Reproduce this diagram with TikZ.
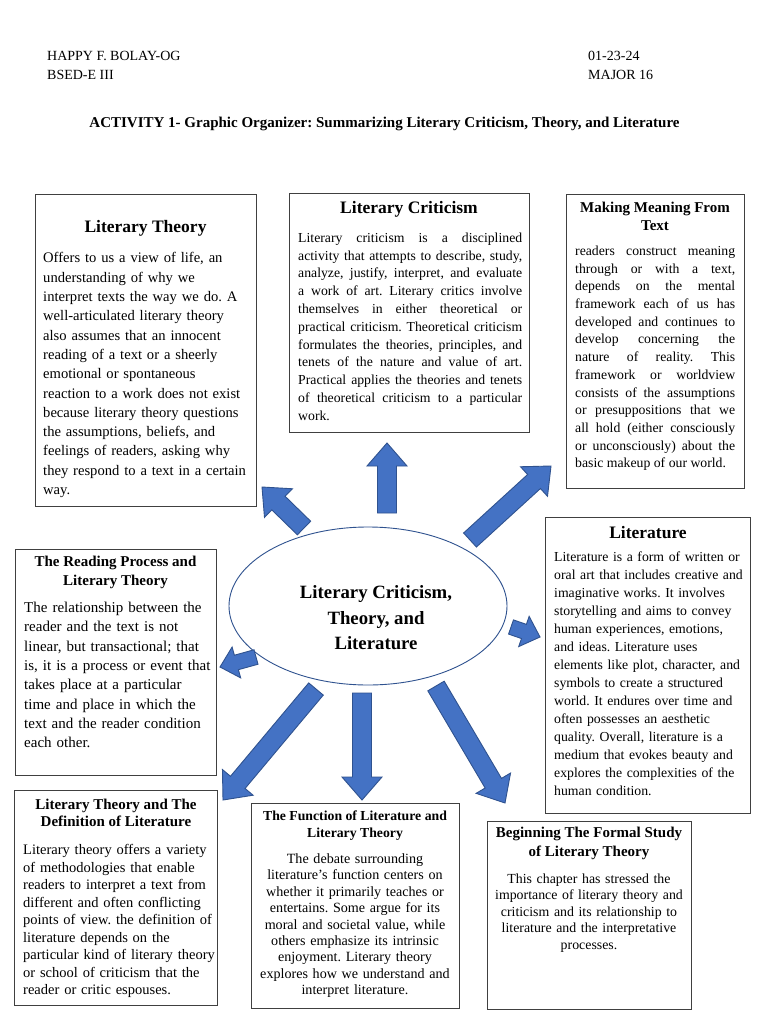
\documentclass[tikz,border=0pt]{standalone}
\usepackage{fontspec}
\setmainfont{Liberation Serif}
\usetikzlibrary{calc,positioning,shapes.geometric}

\definecolor{arrowfill}{HTML}{4472C4}
\definecolor{arrowline}{HTML}{2F528F}

\tolerance=10000
\hbadness=10000
\frenchspacing

\newcommand{\sized}[2]{\fontsize{#1}{#2}\selectfont}

% block arrow: tail, tip, shaft half width, head half width, head length
\newcommand{\fatarrow}[5]{%
  \coordinate (hb) at ($(#2)!#5!(#1)$);
  \filldraw[blockarrow] ($(#1)!#3!90:(#2)$) -- ($(hb)!#3!90:(#2)$) -- ($(hb)!#4!90:(#2)$) -- (#2)
    -- ($(hb)!#4!-90:(#2)$) -- ($(hb)!#3!-90:(#2)$) -- ($(#1)!#3!-90:(#2)$) -- cycle;
}

\tikzset{
  card/.style={
    draw = black!75,
    line width = 0.8pt,
    inner sep = 0pt,
    anchor = north west
  },
  headbig/.style={
    font = \sized{17.5}{21}\bfseries,
    align = center,
    inner sep = 0pt
  },
  headsmall/.style={
    align = center,
    inner sep = 0pt
  },
  body/.style={
    inner sep = 0pt,
    anchor = north west,
    align = left
  },
  blockarrow/.style={
    fill = arrowfill,
    draw = arrowline,
    line width = 0.9pt,
    line join = miter
  }
}

\begin{document}
\begin{tikzpicture}[x=1pt,y=-1pt]
  \useasboundingbox[fill=white] (0,0) rectangle (768,1024);

  % header
  \node[anchor=west, inner sep=0pt, font=\sized{14}{17}] (name) at (47,56) {HAPPY F. BOLAY-OG};
  \node[anchor=west, inner sep=0pt, font=\sized{14}{17}] (course) at (47,75) {BSED-E III};
  \node[anchor=west, inner sep=0pt, font=\sized{14}{17}] (date) at (588,56) {01-23-24};
  \node[anchor=west, inner sep=0pt, font=\sized{14}{17}] (major) at (588,75) {MAJOR 16};
  \node[inner sep=0pt, font=\sized{15}{18}\bfseries] (title) at (384.5,124)
    {ACTIVITY 1- Graphic Organizer: Summarizing Literary Criticism, Theory, and Literature};

  % boxes
  \node[card, minimum width=221pt, minimum height=312pt] (theory) at (35,194) {};
  \node[card, minimum width=240pt, minimum height=239pt] (critic) at (289,193) {};
  \node[card, minimum width=178pt, minimum height=294pt] (meaning) at (566,194) {};
  \node[card, minimum width=205pt, minimum height=296pt] (lit) at (545,517) {};
  \node[card, minimum width=201pt, minimum height=226pt] (reading) at (15,549) {};
  \node[card, minimum width=203pt, minimum height=215pt] (define) at (14,790) {};
  \node[card, minimum width=208pt, minimum height=205pt] (function) at (251,803) {};
  \node[card, minimum width=204pt, minimum height=188pt] (formal) at (487,821) {};

  % titles
  \node[headbig] (theory-t) at (145.5,228) {Literary Theory};
  \node[headbig] (critic-t) at (409,209) {Literary Criticism};
  \node[headsmall, font=\sized{15}{18}\bfseries] (meaning-t) at (655,216) {Making Meaning From\\Text};
  \node[headbig] (lit-t) at (648,533) {Literature};
  \node[headsmall, font=\sized{15}{19}\bfseries] (reading-t) at (115.5,572) {The Reading Process and\\Literary Theory};
  \node[headsmall, font=\sized{15}{17}\bfseries] (define-t) at (116,812.5) {Literary Theory and The\\Definition of Literature};
  \node[headsmall, font=\sized{13.75}{16.5}\bfseries] (function-t) at (355,825.5) {The Function of Literature and\\Literary Theory};
  \node[headsmall, font=\sized{15}{19}\bfseries] (formal-t) at (589,843.5) {Beginning The Formal Study\\of Literary Theory};

  % texts
  \node[body, text width=210pt, font=\sized{14.6}{19.3}] (theory-b) at (43,252.5) {Offers to us a view of life, an\\
    understanding of why we\\
    interpret texts the way we do. A\\
    well-articulated literary theory\\
    also assumes that an innocent\\
    reading of a text or a sheerly\\
    emotional or spontaneous\\
    reaction to a work does not exist\\
    because literary theory questions\\
    the assumptions, beliefs, and\\
    feelings of readers, asking why\\
    they respond to a text in a certain\\
    way.};
  \node[body, align=justify, text width=224pt, font=\sized{13.75}{17.8}] (critic-b) at (298,232.5) {Literary criticism is a disciplined\linebreak
    activity that attempts to describe, study,\linebreak
    analyze, justify, interpret, and evaluate\linebreak
    a work of art. Literary critics involve\linebreak
    themselves in either theoretical or\linebreak
    practical criticism. Theoretical criticism\linebreak
    formulates the theories, principles, and\linebreak
    tenets of the nature and value of art.\linebreak
    Practical applies the theories and tenets\linebreak
    of theoretical criticism to a particular\linebreak
    work.};
  \node[body, align=justify, text width=160pt, font=\sized{13.75}{17.7}] (meaning-b) at (575,245.7) {readers construct meaning\linebreak
    through or with a text,\linebreak
    depends on the mental\linebreak
    framework each of us has\linebreak
    developed and continues to\linebreak
    develop concerning the\linebreak
    nature of reality. This\linebreak
    framework or worldview\linebreak
    consists of the assumptions\linebreak
    or presuppositions that we\linebreak
    all hold (either consciously\linebreak
    or unconsciously) about the\linebreak
    basic makeup of our world.};
  \node[body, text width=192pt, font=\sized{13.75}{18}] (lit-b) at (554,551.7) {Literature is a form of written or\\
    oral art that includes creative and\\
    imaginative works. It involves\\
    storytelling and aims to convey\\
    human experiences, emotions,\\
    and ideas. Literature uses\\
    elements like plot, character, and\\
    symbols to create a structured\\
    world. It endures over time and\\
    often possesses an aesthetic\\
    quality. Overall, literature is a\\
    medium that evokes beauty and\\
    explores the complexities of the\\
    human condition.};
  \node[body, text width=190pt, font=\sized{15}{19.3}] (reading-b) at (24,602) {The relationship between the\\
    reader and the text is not\\
    linear, but transactional; that\\
    is, it is a process or event that\\
    takes place at a particular\\
    time and place in which the\\
    text and the reader condition\\
    each other.};
  \node[body, text width=192pt, font=\sized{14.5}{17.5}] (define-b) at (23,844.3) {Literary theory offers a variety\\
    of methodologies that enable\\
    readers to interpret a text from\\
    different and often conflicting\\
    points of view. the definition of\\
    literature depends on the\\
    particular kind of literary theory\\
    or school of criticism that the\\
    reader or critic espouses.};
  \node[body, anchor=north, align=center, text width=200pt, font=\sized{14.1}{16.4}] (function-b) at (355,853.5) {The debate surrounding\\
    literature's function centers on\\
    whether it primarily teaches or\\
    entertains. Some argue for its\\
    moral and societal value, while\\
    others emphasize its intrinsic\\
    enjoyment. Literary theory\\
    explores how we understand and\\
    interpret literature.};
  \node[body, anchor=north, align=center, text width=200pt, font=\sized{13.85}{16.5}] (formal-b) at (589,873.6) {This chapter has stressed the\\
    importance of literary theory and\\
    criticism and its relationship to\\
    literature and the interpretative\\
    processes.};

  % centre
  \node[draw=arrowline, line width=0.9pt, ellipse, minimum width=278pt, minimum height=158pt] (core) at (368,606) {};
  \node[align=center, inner sep=0pt, font=\sized{18.75}{25.5}\bfseries] (core-t) at (376,618) {Literary Criticism,\\Theory, and\\Literature};

  % arrows
  \coordinate (a1s) at (304,528);
  \coordinate (a1e) at (262,487);
  \coordinate (a2s) at (387,513);
  \coordinate (a2e) at (387,443);
  \coordinate (a3s) at (470,540);
  \coordinate (a3e) at (551,466);
  \coordinate (a4s) at (511,627);
  \coordinate (a4e) at (540,637);
  \coordinate (a5s) at (256,657);
  \coordinate (a5e) at (220,667);
  \coordinate (a6s) at (316,689);
  \coordinate (a6e) at (223,800);
  \coordinate (a7s) at (362,693);
  \coordinate (a7e) at (362,800);
  \coordinate (a8s) at (436,686);
  \coordinate (a8e) at (505,803);

  \foreach \s/\e in {a1s/a1e, a2s/a2e, a3s/a3e, a6s/a6e, a7s/a7e, a8s/a8e}
    \fatarrow{\s}{\e}{9.5pt}{20pt}{23pt};
  \foreach \s/\e in {a4s/a4e, a5s/a5e}
    \fatarrow{\s}{\e}{7.5pt}{16pt}{17pt};
\end{tikzpicture}
\end{document}
